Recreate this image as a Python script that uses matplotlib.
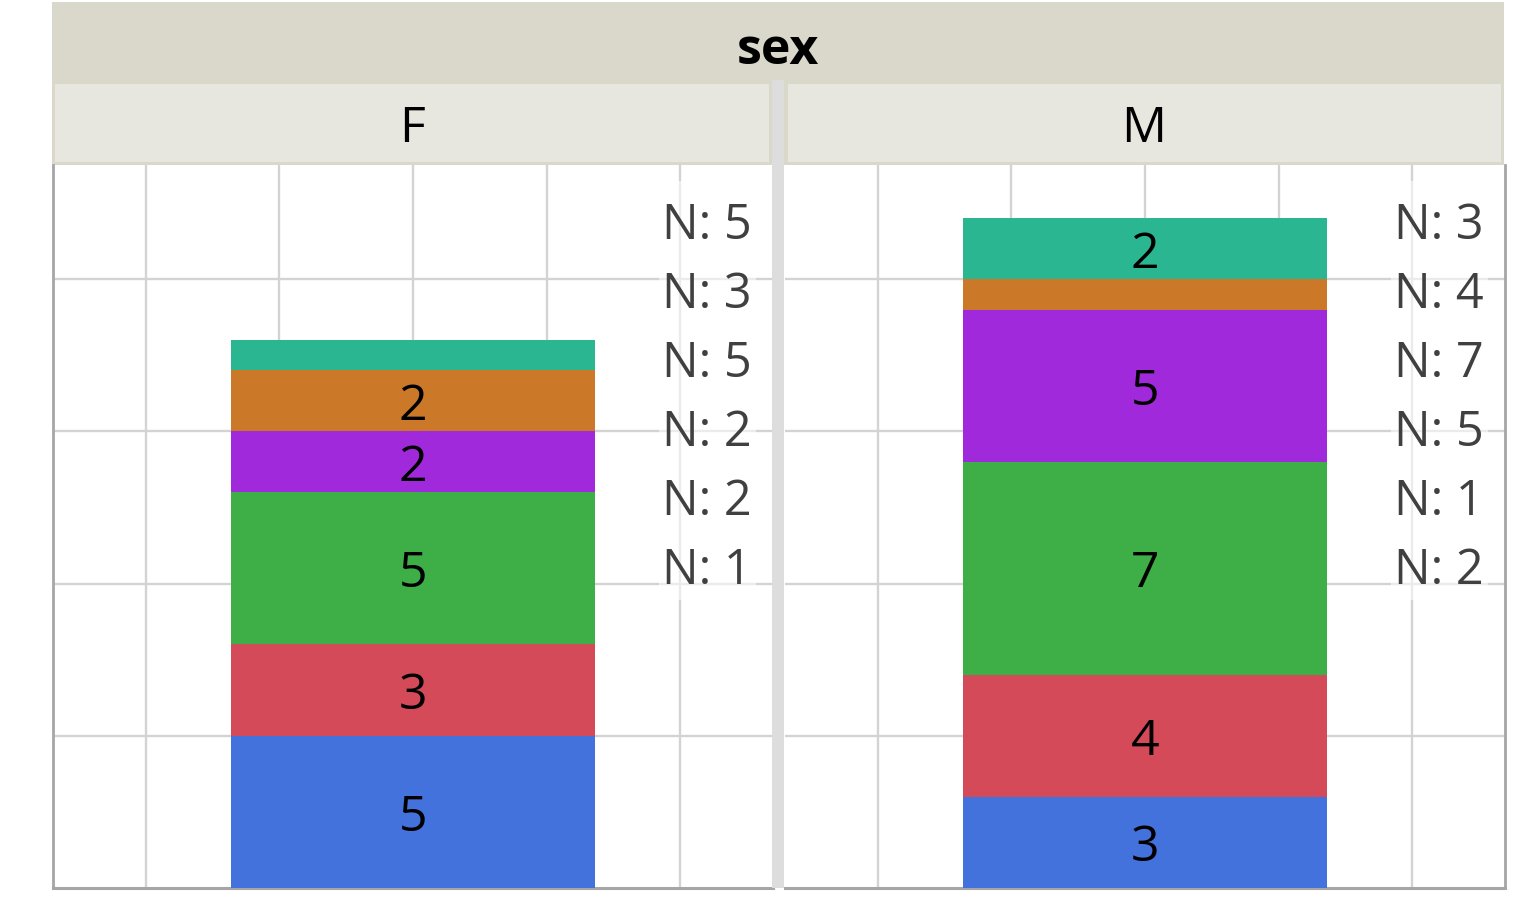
import matplotlib
matplotlib.use("Agg")
import matplotlib.pyplot as plt
from matplotlib.patches import Rectangle

plt.rcParams['font.family'] = ['Open Sans', 'DejaVu Sans']

# ---- data ----
panels = ["F", "M"]
facet_var = "sex"
categories = ["c1", "c2", "c3", "c4", "c5", "c6"]  # stacked bottom -> top
colors = ["#4472DC", "#D44A58", "#3EAE47", "#A02ADB", "#CB7829", "#2AB691"]
counts_F = [5, 3, 5, 2, 2, 1]
counts_M = [3, 4, 7, 5, 1, 2]
counts = {"F": counts_F, "M": counts_M}

W, H = 1515, 915
fig = plt.figure(figsize=(W / 100, H / 100), dpi=100)
fig.patch.set_facecolor("white")


def fx(px):
    return px / W


def fy(py):
    return 1 - py / H


def frect(x0, y0, x1, y1, **kw):
    r = Rectangle((fx(x0), fy(y1)), fx(x1) - fx(x0), fy(y0) - fy(y1),
                  transform=fig.transFigure, **kw)
    fig.add_artist(r)
    return r


STRIP_DARK = "#DAD8CA"
STRIP_LIGHT = "#E7E7DF"
GRID = "#D3D3D3"
SPINE = "#A6A6A6"

panel_left = [53, 785]
panel_w = 720
panel_top, panel_bot = 165, 888
ymax = 23.75
xl = 0.674

# strips
frect(52, 2, 1504, 83, facecolor=STRIP_DARK, edgecolor="none", zorder=0)
fig.text(fx(778), fy(51), facet_var, ha="center", va="center",
         fontsize=36, fontweight="bold", color="black")
frect(52, 83, 772, 165, facecolor=STRIP_DARK, edgecolor="none", zorder=0)
frect(55, 84, 769, 162, facecolor=STRIP_LIGHT, edgecolor="none", zorder=1)
frect(784, 83, 1504, 165, facecolor=STRIP_DARK, edgecolor="none", zorder=0)
frect(788, 84, 1501, 162, facecolor=STRIP_LIGHT, edgecolor="none", zorder=1)
# gap band between panels
frect(772, 80, 784, 888, facecolor="#DDDDDD", edgecolor="none", zorder=2)

for i, p in enumerate(panels):
    vals = counts[p]
    left = panel_left[i]
    ax = fig.add_axes([fx(left), fy(panel_bot), panel_w / W,
                       (panel_bot - panel_top) / H])
    ax.set_xlim(-xl, xl)
    ax.set_ylim(0, ymax)
    ax.set_facecolor("white")
    ax.set_xticks([-0.5, -0.25, 0, 0.25, 0.5])
    ax.set_yticks([5, 10, 15, 20])
    ax.grid(True, color=GRID, lw=1.7)
    ax.set_axisbelow(True)
    ax.tick_params(length=0, labelleft=False, labelbottom=False)
    for s in ax.spines.values():
        s.set_visible(False)
    ax.spines["bottom"].set_visible(True)
    ax.spines["bottom"].set_color(SPINE)
    ax.spines["bottom"].set_linewidth(2.2)
    side = "left" if i == 0 else "right"
    ax.spines[side].set_visible(True)
    ax.spines[side].set_color(SPINE)
    ax.spines[side].set_linewidth(2.0)

    bottom = 0
    for v, c in zip(vals, colors):
        ax.bar(0, v, width=0.682, bottom=bottom, color=c, edgecolor="none", zorder=3)
        if v >= 2:
            ax.annotate(str(v), (0, bottom + v / 2), xytext=(0, -4.5),
                        textcoords="offset points", ha="center", va="center",
                        fontsize=36, color="black", zorder=4)
        bottom += v

    # N labels box
    ax.add_patch(Rectangle((0.842, 0.398), 0.134, 0.58, transform=ax.transAxes,
                           facecolor="white", alpha=0.55, edgecolor="none", zorder=2.5))
    ys = [0.921, 0.826, 0.730, 0.635, 0.540, 0.444]
    for yv, v in zip(ys, vals):
        ax.annotate(f"N: {v}", (0.971, yv), xycoords="axes fraction",
                    xytext=(0, -3.2), textcoords="offset points", ha="right",
                    va="center", fontsize=35, color="#404040", zorder=5)

    # facet label
    fig.text(fx(left + panel_w / 2 - 1), fy(129), p, ha="center", va="center",
             fontsize=36, color="black", zorder=3)

fig.savefig("out.png", dpi=100, facecolor="white")
